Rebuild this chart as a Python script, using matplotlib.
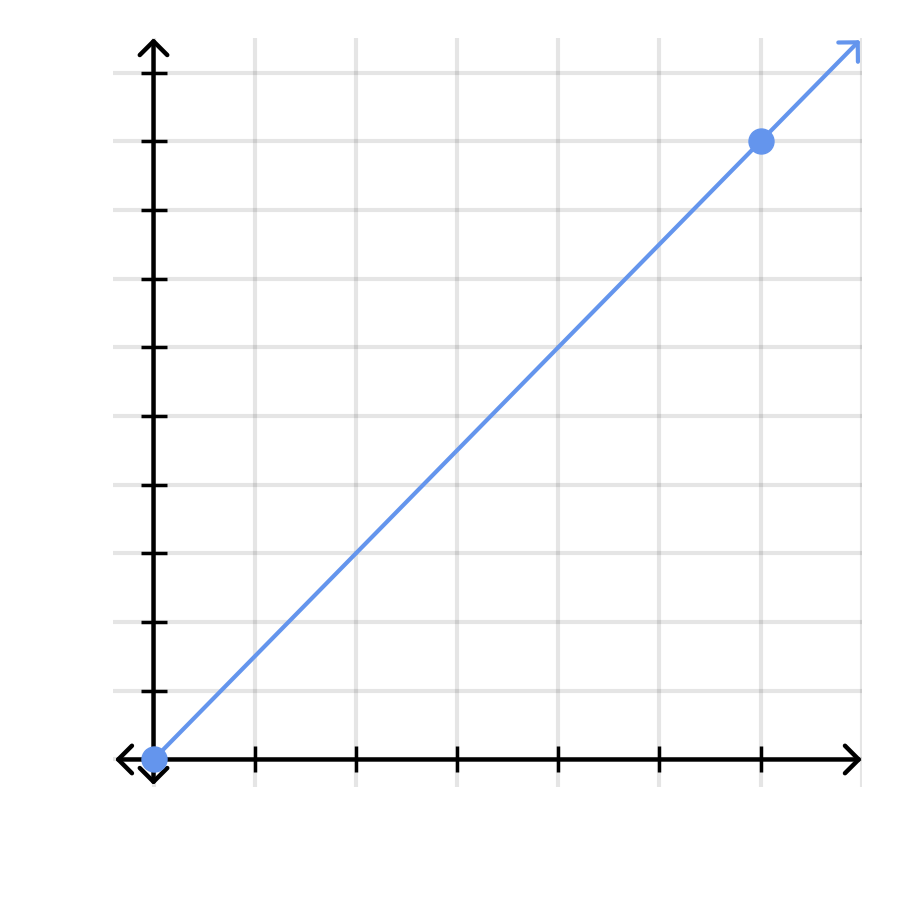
import numpy as np
import matplotlib.pyplot as plt

# grid / axis ranges
x_min, x_max = -0.4, 7
y_min, y_max = -0.4, 10.5
x_ticks = [1, 2, 3, 4, 5, 6]
y_ticks = [1, 2, 3, 4, 5, 6, 7, 8, 9, 10]

# the two points on the line
pts_x = [0, 6]
pts_y = [0, 9]

fig = plt.figure(figsize=(9, 9), dpi=100)
ax = fig.add_axes([0.1256, 0.1256, 0.832, 0.832])
ax.set_xlim(x_min, x_max)
ax.set_ylim(y_min, y_max)

# grid
ax.set_xticks(list(range(0, 8)))
ax.set_yticks(list(range(0, 11)))
ax.grid(True, color='black', alpha=0.1, lw=3)
ax.tick_params(length=0, labelbottom=False, labelleft=False)
for s in ax.spines.values():
    s.set_visible(False)

# axes with chevron arrows at both ends
head = dict(arrowstyle='<->,head_length=0.45,head_width=0.45', lw=3.2, color='black',
            shrinkA=0, shrinkB=0, mutation_scale=22, capstyle='round',
            joinstyle='round')
ax.annotate('', xy=(x_max, 0), xytext=(x_min + 0.02, 0), arrowprops=head, zorder=3)
ax.annotate('', xy=(0, y_max), xytext=(0, y_min + 0.03), arrowprops=head, zorder=3)

# tick marks
ax.plot(x_ticks, [0] * len(x_ticks), ls='none', marker='|', ms=19, mew=2.5,
        color='black', zorder=3)
ax.plot([0] * len(y_ticks), y_ticks, ls='none', marker='_', ms=19, mew=2.5,
        color='black', zorder=3)

# line through the points, with arrow at the top
slope = (pts_y[1] - pts_y[0]) / (pts_x[1] - pts_x[0])
end_x = x_max - 0.02
end_y = pts_y[0] + slope * (end_x - pts_x[0])
ax.annotate('', xy=(end_x, end_y), xytext=(pts_x[0], pts_y[0]),
            arrowprops=dict(arrowstyle='->,head_length=0.45,head_width=0.45',
                            lw=3, color='#6495ed', shrinkA=0, shrinkB=0,
                            mutation_scale=22, capstyle='round',
                            joinstyle='round'), zorder=4)
ax.plot(pts_x, pts_y, ls='none', marker='o', ms=18, color='#6495ed', zorder=5)

fig.savefig('out.png')
